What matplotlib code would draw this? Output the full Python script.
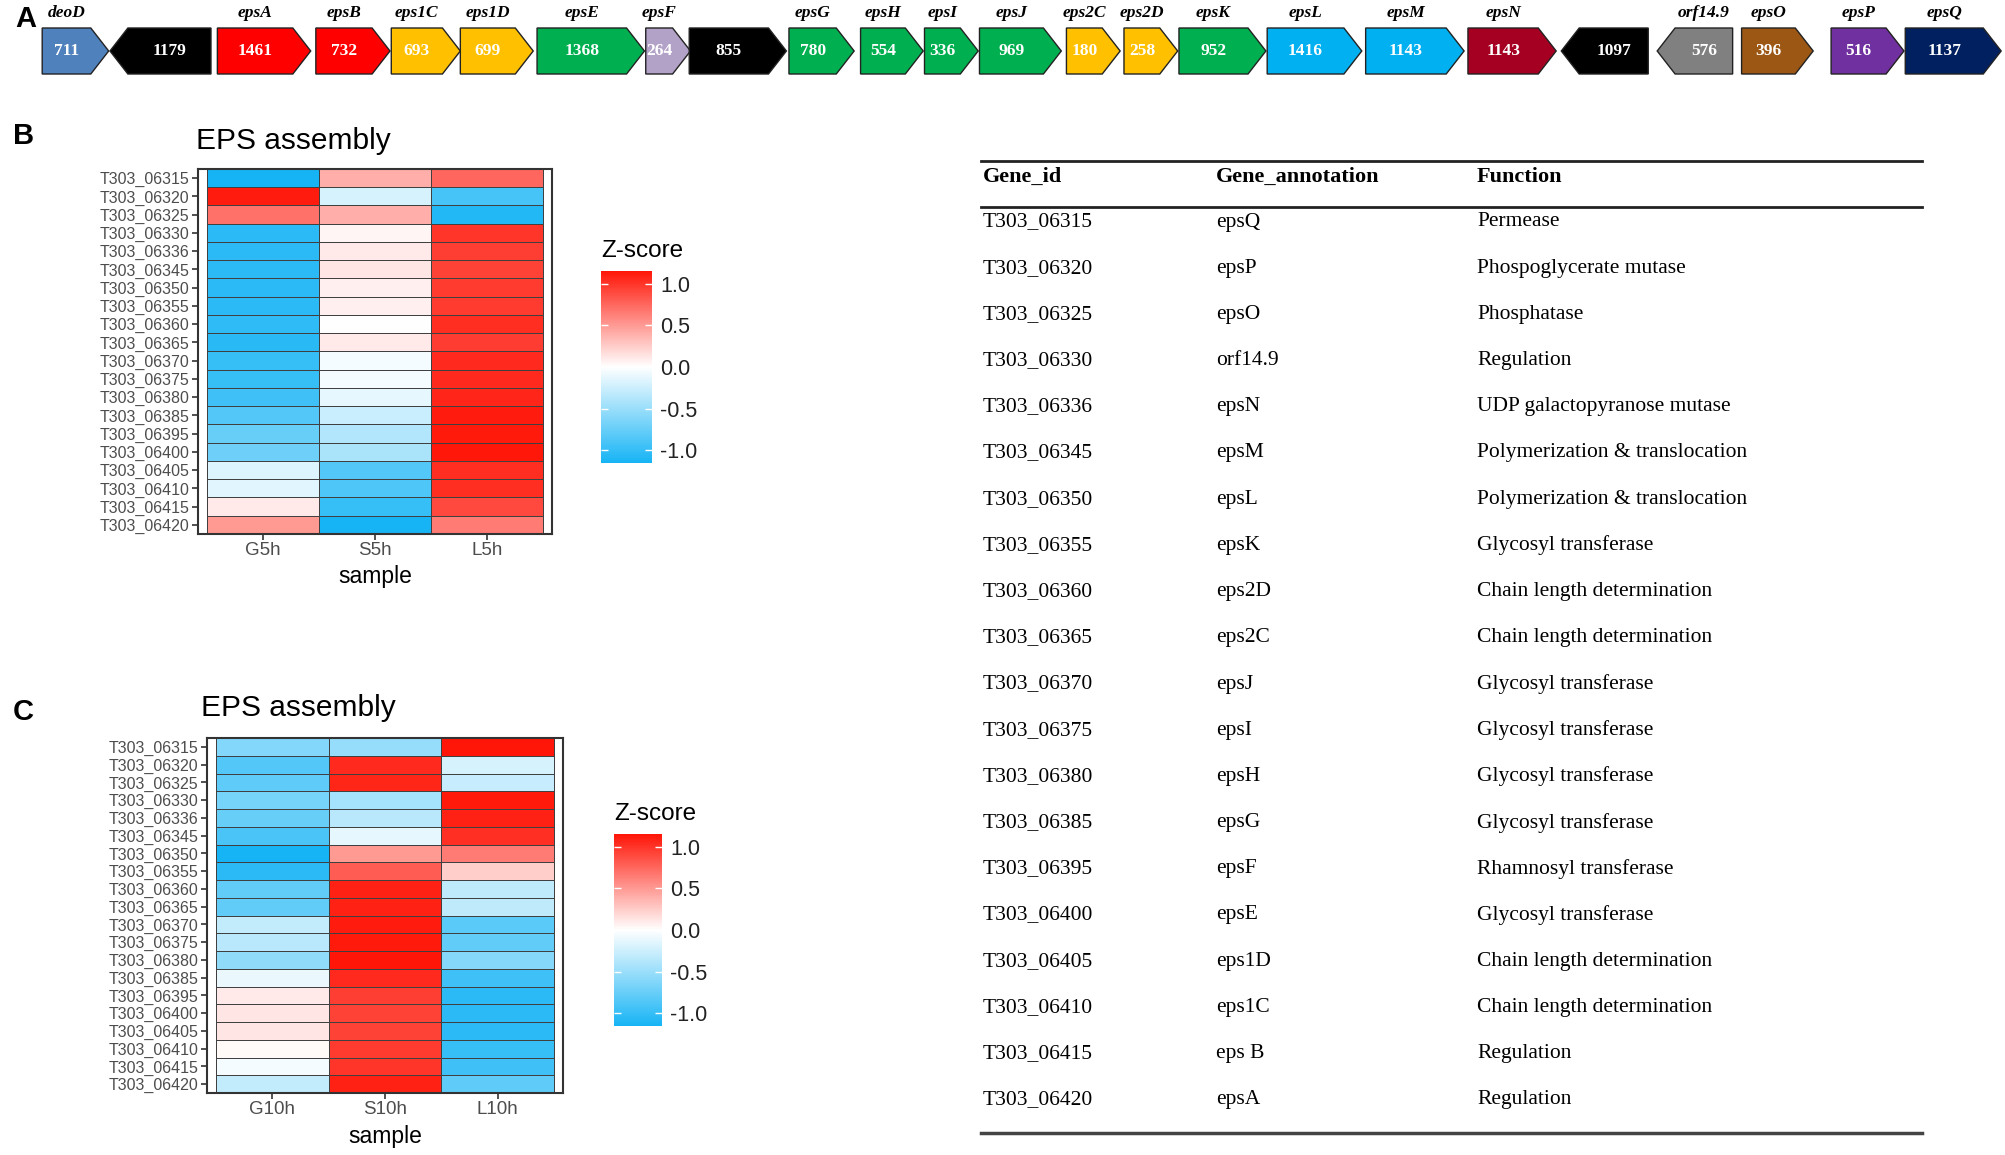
import numpy as np
import matplotlib.pyplot as plt
from matplotlib.colors import LinearSegmentedColormap
from matplotlib.patches import Polygon

W, H = 2005, 1155

# --- A: eps gene cluster (positions in map units along the track) ---
gene_names = ["deoD", "", "epsA", "epsB", "eps1C", "eps1D", "epsE", "epsF", "",
              "epsG", "epsH", "epsI", "epsJ", "eps2C", "eps2D", "epsK", "epsL",
              "epsM", "epsN", "", "orf14.9", "epsO", "epsP", "epsQ"]
gene_sizes = ["711", "1179", "1461", "732", "693", "699", "1368", "264", "855",
              "780", "554", "336", "969", "180", "258", "952", "1416",
              "1143", "1143", "1097", "576", "396", "516", "1137"]
gene_start = [33, 86, 170, 247, 306, 360, 420, 505, 539, 617, 673, 723, 766,
              834, 879, 922, 991, 1068, 1148, 1221, 1296, 1362, 1432, 1490]
gene_end = [85, 165, 243, 305, 360, 417, 504, 540, 615, 668, 722, 765, 830,
            876, 921, 990, 1065, 1145, 1217, 1289, 1355, 1418, 1489, 1565]
gene_strand = [1, -1, 1, 1, 1, 1, 1, 1, 1, 1, 1, 1, 1, 1, 1, 1, 1, 1, 1, -1, -1, 1, 1, 1]
gene_colors = ["#4F81BD", "#000000", "#FF0000", "#FF0000", "#FFC000", "#FFC000",
               "#00B050", "#B3A2C7", "#000000", "#00B050", "#00B050", "#00B050",
               "#00B050", "#FFC000", "#FFC000", "#00B050", "#00B0F0", "#00B0F0",
               "#A50021", "#000000", "#808080", "#9C5714", "#7030A0", "#002060"]

# --- B / C: row z-scores of the eps genes ---
gene_ids = ["T303_06315", "T303_06320", "T303_06325", "T303_06330", "T303_06336",
            "T303_06345", "T303_06350", "T303_06355", "T303_06360", "T303_06365",
            "T303_06370", "T303_06375", "T303_06380", "T303_06385", "T303_06395",
            "T303_06400", "T303_06405", "T303_06410", "T303_06415", "T303_06420"]
samples_5h = ["G5h", "S5h", "L5h"]
samples_10h = ["G10h", "S10h", "L10h"]

z_5h = [[-1.15, 0.40, 0.75], [1.12, -0.20, -0.92], [0.70, 0.40, -1.10],
        [-1.05, 0.05, 1.00], [-1.05, 0.10, 0.95], [-1.05, 0.12, 0.93],
        [-1.05, 0.08, 0.97], [-1.05, 0.08, 0.97], [-1.03, 0.00, 1.03],
        [-1.06, 0.10, 0.96], [-1.00, -0.05, 1.05], [-1.00, -0.05, 1.05],
        [-0.95, -0.12, 1.07], [-0.85, -0.27, 1.12], [-0.75, -0.38, 1.13],
        [-0.72, -0.42, 1.14], [-0.18, -0.85, 1.03], [-0.15, -0.88, 1.03],
        [0.10, -1.00, 0.90], [0.50, -1.15, 0.65]]
z_10h = [[-0.62, -0.53, 1.15], [-0.85, 1.05, -0.20], [-0.80, 1.08, -0.28],
         [-0.68, -0.45, 1.13], [-0.75, -0.35, 1.10], [-0.90, -0.12, 1.02],
         [-1.15, 0.50, 0.65], [-1.05, 0.80, 0.25], [-0.78, 1.10, -0.32],
         [-0.78, 1.10, -0.32], [-0.30, 1.12, -0.82], [-0.35, 1.13, -0.78],
         [-0.55, 1.15, -0.60], [-0.10, 1.05, -0.95], [0.10, 0.95, -1.05],
         [0.12, 0.93, -1.05], [0.12, 0.93, -1.05], [0.03, 0.97, -1.00],
         [-0.05, 1.00, -0.95], [-0.30, 1.10, -0.80]]

# --- table ---
table_header = ["Gene_id", "Gene_annotation", "Function"]
annotations = ["epsQ", "epsP", "epsO", "orf14.9", "epsN", "epsM", "epsL", "epsK",
               "eps2D", "eps2C", "epsJ", "epsI", "epsH", "epsG", "epsF", "epsE",
               "eps1D", "eps1C", "eps B", "epsA"]
functions = ["Permease", "Phospoglycerate mutase", "Phosphatase", "Regulation",
             "UDP galactopyranose mutase", "Polymerization & translocation",
             "Polymerization & translocation", "Glycosyl transferase",
             "Chain length determination", "Chain length determination",
             "Glycosyl transferase", "Glycosyl transferase", "Glycosyl transferase",
             "Glycosyl transferase", "Rhamnosyl transferase", "Glycosyl transferase",
             "Chain length determination", "Chain length determination",
             "Regulation", "Regulation"]

plt.rcParams["font.family"] = ["Liberation Sans", "DejaVu Sans"]
fig = plt.figure(figsize=(W / 100, H / 100), dpi=100)


def rect(x0, y0, x1, y1):
    # pixel box (top-left origin) -> figure fraction
    return [x0 / W, 1 - y1 / H, (x1 - x0) / W, (y1 - y0) / H]


# overlay for text and table lines, pixel coordinates
ax0 = fig.add_axes([0, 0, 1, 1])
ax0.set_xlim(0, W)
ax0.set_ylim(H, 0)
ax0.set_axis_off()

for lab, x, y in [("A", 15, 19), ("B", 13, 136), ("C", 13, 712)]:
    ax0.text(x, y, lab, fontsize=21, fontweight="bold", va="center", ha="left")

# gene track
axg = fig.add_axes(rect(0, 0, W, 90))
axg.set_xlim(0, 1568)
axg.set_ylim(90, 0)
axg.set_axis_off()
tip = 14
for name, size, s, e, strand, c in zip(gene_names, gene_sizes, gene_start,
                                       gene_end, gene_strand, gene_colors):
    y0, y1, ym = 28, 74, 51
    if strand > 0:
        pts = [(s, y0), (e - tip, y0), (e, ym), (e - tip, y1), (s, y1)]
        cx = (s + e - tip) / 2
    else:
        pts = [(s, ym), (s + tip, y0), (e, y0), (e, y1), (s + tip, y1)]
        cx = (s + tip + e) / 2
    axg.add_patch(Polygon(pts, closed=True, facecolor=c, edgecolor="#222222", lw=1))
    axg.text(cx, ym, size, color="white", fontsize=12.5, fontweight="bold",
             family="Liberation Serif", ha="center", va="center")
    if name:
        axg.text(cx, 13, name, fontsize=12.5, fontweight="bold", style="italic",
                 family="Liberation Serif", ha="center", va="center")

cmap = LinearSegmentedColormap.from_list("zs", ["#17B4F5", "#FFFFFF", "#FF1608"])
zlim = 2 / np.sqrt(3)


def heatmap(box, z, samples, title_xy, cbar_box, sample_y):
    ax = fig.add_axes(rect(*box))
    mesh = ax.pcolormesh(np.arange(len(samples) + 1) + 0.5,
                         np.arange(len(gene_ids) + 1) + 0.5, np.array(z),
                         cmap=cmap, vmin=-zlim, vmax=zlim,
                         edgecolors="#404040", linewidth=0.6)
    ax.set_xlim(0.42, len(samples) + 0.58)
    ax.set_ylim(len(gene_ids) + 0.5, 0.5)
    ax.set_xticks(np.arange(1, len(samples) + 1))
    ax.set_xticklabels(samples, fontsize=13.5, color="#4D4D4D")
    ax.set_yticks(np.arange(1, len(gene_ids) + 1))
    ax.set_yticklabels(gene_ids, fontsize=11.5, color="#4D4D4D")
    ax.tick_params(length=4, width=1.2, color="#333333", pad=2)
    for sp in ax.spines.values():
        sp.set_color("#333333")
        sp.set_linewidth(1.5)
    ax0.text(title_xy[0], title_xy[1], "EPS assembly", fontsize=21.5,
             ha="left", va="center")
    ax0.text((box[0] + box[2]) / 2, sample_y, "sample", fontsize=16.5,
             ha="center", va="center")

    cax = fig.add_axes(rect(*cbar_box))
    cb = fig.colorbar(mesh, cax=cax, ticks=[-1, -0.5, 0, 0.5, 1])
    cb.outline.set_visible(False)
    cb.set_ticklabels(["-1.0", "-0.5", "0.0", "0.5", "1.0"])
    cax.tick_params(labelsize=15.5, length=5, direction="in", color="white",
                    left=True, right=True, width=1, pad=6, labelcolor="#222222")
    ax0.text(cbar_box[0], cbar_box[1] - 20, "Z-score", fontsize=17.5,
             ha="left", va="center")


heatmap((198, 169, 552, 534), z_5h, samples_5h, (196, 141), (601, 271, 652, 463), 576)
heatmap((207, 738, 563, 1093), z_10h, samples_10h, (201, 708), (614, 834, 662, 1026), 1136)

# table
ax0.plot([981, 1922], [161, 161], color="#222222", lw=2)
ax0.plot([981, 1922], [207, 207], color="#222222", lw=2)
ax0.plot([981, 1922], [1133, 1133], color="#444444", lw=2.5)
col_x = [983, 1216, 1477]
for x, h in zip(col_x, table_header):
    ax0.text(x, 177, h, fontsize=16, fontweight="bold", family="Liberation Serif",
             ha="left", va="center")
row_y = 222 + 46.2 * np.arange(len(gene_ids))
for y, gid, ann, fn in zip(row_y, gene_ids, annotations, functions):
    for x, t in zip(col_x, [gid, ann, fn]):
        ax0.text(x, y, t, fontsize=15.5, family="Liberation Serif",
                 ha="left", va="center")

fig.savefig("out.png", dpi=100)
